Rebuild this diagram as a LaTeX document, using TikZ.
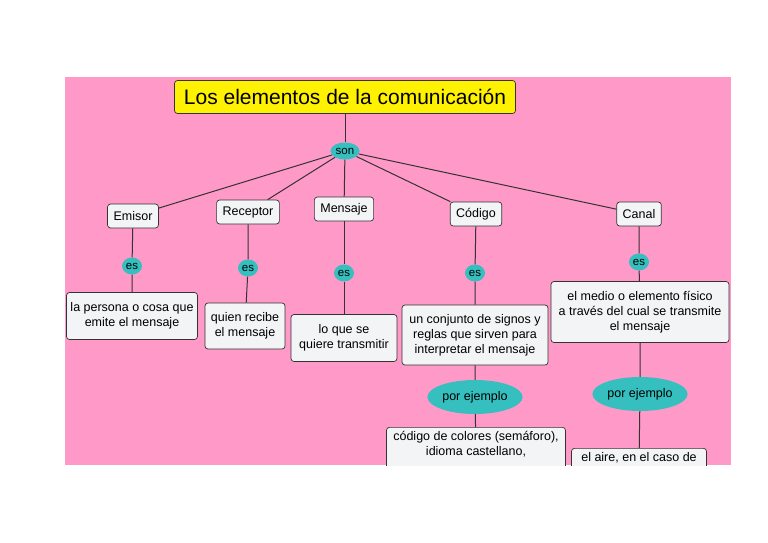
\documentclass[tikz,border=0pt]{standalone}
\usepackage{fontspec}
\setmainfont{Liberation Sans}
\usetikzlibrary{shapes.geometric}
\definecolor{pinkbg}{HTML}{FF99C8}
\definecolor{teal}{HTML}{35BFBF}
\definecolor{boxbg}{HTML}{F2F4F5}
\definecolor{ttl}{HTML}{FFF200}
\begin{document}
\begin{tikzpicture}[x=1pt,y=-1pt,
  box/.style={draw=black!80,fill=boxbg,rounded corners=3pt,align=center,font=\fontsize{12.5}{15}\selectfont,inner sep=4pt,line width=0.7pt},
  cbox/.style={box,minimum height=24pt,inner xsep=6pt},
  lnk/.style={ellipse,fill=teal,inner sep=1pt,minimum width=20pt,minimum height=17pt,font=\fontsize{11.5}{13}\selectfont},
  ex/.style={ellipse,fill=teal,minimum width=76pt,minimum height=34pt,inner sep=1pt,font=\fontsize{12.5}{14}\selectfont},
  con/.style={draw=black!80,line width=1pt}]
\useasboundingbox (0,0) rectangle (768,543);
\fill[white] (0,0) rectangle (768,543);
\begin{scope}
\clip (65,77) rectangle (731,465);
\fill[pinkbg] (65,77) rectangle (731,465);
\node[box,fill=ttl,font=\fontsize{21}{24}\selectfont,minimum width=341pt,minimum height=33pt] (t) at (345,97) {Los elementos de la comunicación};
\node[lnk,minimum width=26pt] (son) at (345,151) {son};
\node[cbox] (em) at (133,216) {Emisor};
\node[cbox] (re) at (248,212) {Receptor};
\node[cbox] (me) at (344,209) {Mensaje};
\node[cbox] (co) at (476,214) {Código};
\node[cbox] (ca) at (639,214) {Canal};
\node[lnk] (e1) at (132,266) {es};
\node[lnk] (e2) at (248,268) {es};
\node[lnk] (e3) at (344,273) {es};
\node[lnk] (e4) at (475,273) {es};
\node[lnk] (e5) at (639,262) {es};
\node[box,minimum width=131pt,minimum height=47pt] (d1) at (132,316) {la persona o cosa que\\emite el mensaje};
\node[box,minimum width=80pt,minimum height=46pt] (d2) at (245,326) {quien recibe\\el mensaje};
\node[box,minimum width=106pt,minimum height=47pt] (d3) at (344,338) {lo que se\\quiere transmitir};
\node[box,minimum width=146pt,minimum height=60pt] (d4) at (475,335) {un conjunto de signos y\\reglas que sirven para\\interpretar el mensaje};
\node[box,minimum width=178pt,minimum height=61pt] (d5) at (640,312) {el medio o elemento físico\\a través del cual se transmite\\el mensaje};
\node[ex] (p1) at (475,397) {por ejemplo};
\node[ex] (p2) at (640,394) {por ejemplo};
\node[box,anchor=north,minimum width=179pt] (b1) at (476,427) {código de colores (semáforo),\\idioma castellano,\\ };
\node[box,anchor=north,minimum width=135pt] (b2) at (639,448) {el aire, en el caso de\\ };
\draw[con] (t) -- (son);
\foreach \a in {em,re,me,co,ca} \draw[con] (son) -- (\a);
\draw[con] (em) -- (e1) -- (d1);
\draw[con] (re) -- (e2) -- (d2);
\draw[con] (me) -- (e3) -- (d3);
\draw[con] (co) -- (e4) -- (d4);
\draw[con] (ca) -- (e5) -- (d5);
\draw[con] (d4) -- (p1) -- (b1);
\draw[con] (d5) -- (p2) -- (b2);
\end{scope}
\end{tikzpicture}
\end{document}
